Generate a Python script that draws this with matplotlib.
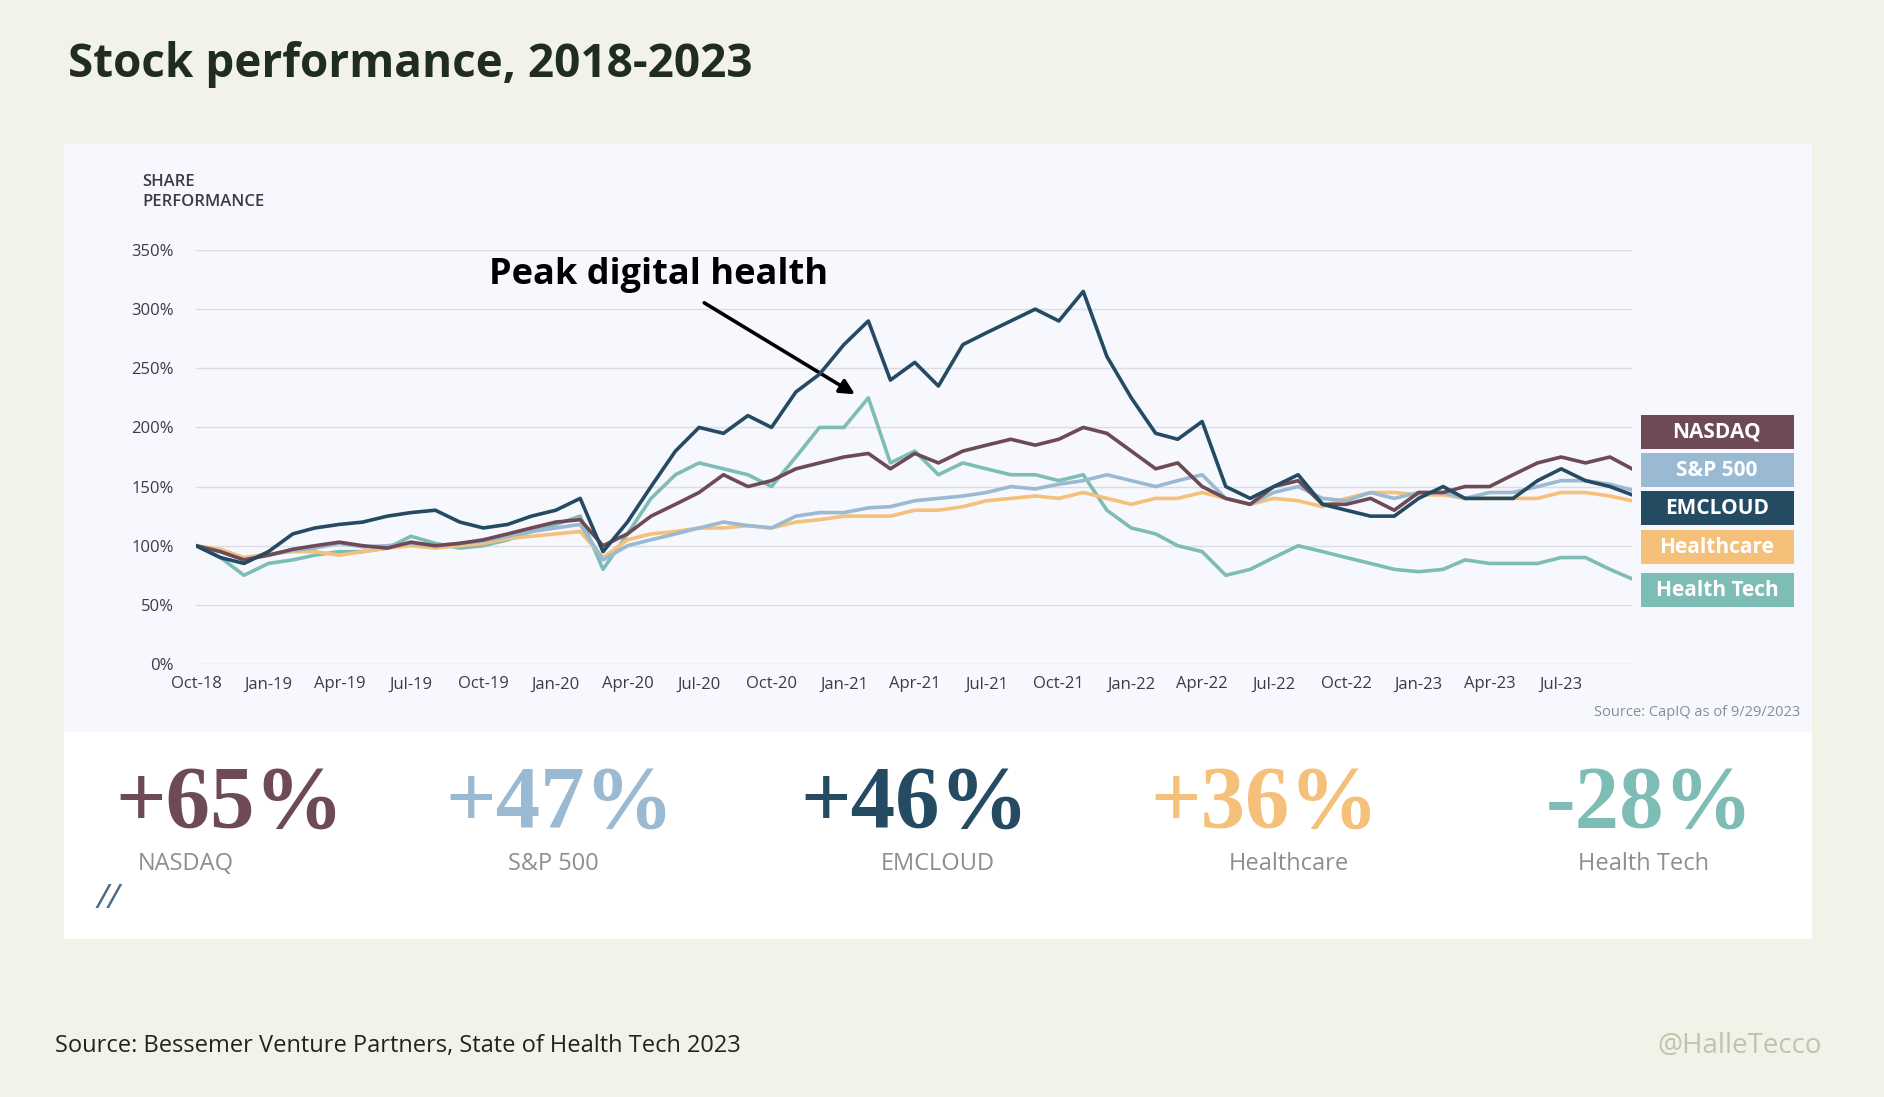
import numpy as np
import pandas as pd
import matplotlib
matplotlib.use("Agg")
import matplotlib.pyplot as plt
import matplotlib.dates as mdates
from matplotlib.patches import Rectangle

# ── Data (monthly readings, % of Oct-18 level) ───────────────────────────
dates = list(pd.date_range("2018-10-01", periods=60, freq="MS")) + [pd.Timestamp("2023-09-29")]

emcloud = [100, 90, 85, 95, 110, 115, 118, 120, 125, 128, 130, 120, 115, 118, 125, 130, 140, 95, 120, 150,
           180, 200, 195, 210, 200, 230, 245, 270, 290, 240, 255, 235, 270, 280, 290, 300, 290, 315, 260, 225,
           195, 190, 205, 150, 140, 150, 160, 135, 130, 125, 125, 140, 150, 140, 140, 140, 155, 165, 155, 150, 143]
nasdaq = [100, 95, 88, 92, 97, 100, 103, 100, 98, 103, 100, 102, 105, 110, 115, 120, 122, 100, 110, 125,
          135, 145, 160, 150, 155, 165, 170, 175, 178, 165, 178, 170, 180, 185, 190, 185, 190, 200, 195, 180,
          165, 170, 150, 140, 135, 150, 155, 135, 135, 140, 130, 145, 145, 150, 150, 160, 170, 175, 170, 175, 165]
sp500 = [100, 95, 88, 92, 96, 98, 102, 99, 100, 102, 100, 102, 104, 108, 112, 115, 118, 88, 100, 105,
         110, 115, 120, 117, 115, 125, 128, 128, 132, 133, 138, 140, 142, 145, 150, 148, 152, 155, 160, 155,
         150, 155, 160, 140, 135, 145, 150, 140, 138, 145, 140, 145, 145, 140, 145, 145, 150, 155, 155, 152, 147]
healthcare = [100, 97, 90, 93, 95, 95, 92, 95, 98, 100, 98, 100, 102, 106, 108, 110, 112, 90, 105, 110,
              112, 115, 115, 117, 115, 120, 122, 125, 125, 125, 130, 130, 133, 138, 140, 142, 140, 145, 140, 135,
              140, 140, 145, 140, 135, 140, 138, 133, 140, 145, 145, 143, 143, 140, 140, 140, 140, 145, 145, 142, 138]
healthtech = [100, 90, 75, 85, 88, 92, 95, 95, 98, 108, 102, 98, 100, 105, 112, 118, 125, 80, 110, 140,
              160, 170, 165, 160, 150, 175, 200, 200, 225, 170, 180, 160, 170, 165, 160, 160, 155, 160, 130, 115,
              110, 100, 95, 75, 80, 90, 100, 95, 90, 85, 80, 78, 80, 88, 85, 85, 85, 90, 90, 80, 72]

names = ["NASDAQ", "S&P 500", "EMCLOUD", "Healthcare", "Health Tech"]
colors = ["#6e4a57", "#9ab9d3", "#254b63", "#f5c07a", "#7dbdb6"]
changes = ["+65%", "+47%", "+46%", "+36%", "-28%"]
series = [nasdaq, sp500, emcloud, healthcare, healthtech]

plt.rcParams["font.family"] = ["Open Sans", "DejaVu Sans"]

W, H = 1884, 1097
fig = plt.figure(figsize=(W / 100, H / 100), dpi=100, facecolor="#f3f2e8")

def px(x, y):
    return x / W, 1 - y / H

# panels
fig.patches.append(Rectangle(px(64, 732), 1748 / W, 588 / H, transform=fig.transFigure,
                             facecolor="#f7f8fd", edgecolor="none", zorder=-2))
fig.patches.append(Rectangle(px(64, 939), 1748 / W, 207 / H, transform=fig.transFigure,
                             facecolor="#ffffff", edgecolor="none", zorder=-2))

fig.text(*px(68, 65), "Stock performance, 2018-2023", fontsize=33, fontweight="bold",
         color="#1f2d1f", va="center")

ax = fig.add_axes([196 / W, 1 - 664 / H, (1632 - 196) / W, (664 - 250) / H])
ax.set_facecolor("none")
ax.set_zorder(5)

order = [4, 3, 1, 0, 2]
for i in order:
    ax.plot(dates, series[i], color=colors[i], lw=2.6, zorder=3 + (i == 2))

ax.set_ylim(0, 350)
ax.set_yticks(range(0, 351, 50))
ax.set_yticklabels([f"{v}%" for v in range(0, 351, 50)])
ax.set_xlim(dates[0], dates[-1])
ax.xaxis.set_major_locator(mdates.MonthLocator(bymonth=[1, 4, 7, 10]))
ax.xaxis.set_major_formatter(mdates.DateFormatter("%b-%y"))
ax.grid(axis="y", color="#dcdde3", lw=1)
ax.set_axisbelow(True)
for s in ax.spines.values():
    s.set_visible(False)
ax.tick_params(length=0, labelsize=12, colors="#3a3a4a", pad=9)
ax.tick_params(axis="y", pad=16)

fig.text(*px(142, 192), "SHARE\nPERFORMANCE", fontsize=12, fontweight="semibold",
         color="#3a3a4a", va="center", linespacing=1.3)

ax.annotate("Peak digital health", xy=(pd.Timestamp("2021-01-15"), 228),
            xytext=(pd.Timestamp("2020-05-10"), 329), fontsize=26, fontweight="bold",
            ha="center", va="center", color="black",
            arrowprops=dict(arrowstyle="-|>", color="black", lw=2.6, mutation_scale=22,
                            shrinkA=10, shrinkB=0))

fig.text(*px(1800, 712), "Source: CapIQ as of 9/29/2023", fontsize=10.5, color="#8a8d96",
         ha="right", va="center")

# legend boxes
ys = [432, 470, 508, 547, 590]
for name, c, y in zip(names, colors, ys):
    fig.patches.append(Rectangle(px(1641, y + 17), 153 / W, 34 / H, transform=fig.transFigure,
                                 facecolor=c, edgecolor="none", zorder=2))
    fig.text(*px(1717, y), name, fontsize=15, fontweight="bold", color="white",
             ha="center", va="center", zorder=3)

# big numbers
xs = [230, 560, 915, 1265, 1650]
lx = [138, 508, 881, 1229, 1578]
for x, l, ch, name, c in zip(xs, lx, changes, names, colors):
    fig.text(*px(x, 805), ch, fontsize=64, fontweight="bold", family=["Liberation Serif"],
             color=c, ha="center", va="center")
    fig.text(*px(l, 864), name, fontsize=17, color="#8e8e8e", ha="left", va="center")

fig.text(*px(108, 900), "//", fontsize=24, style="italic", color="#4a6a85", ha="center", va="center")

fig.text(*px(55, 1046), "Source: Bessemer Venture Partners, State of Health Tech 2023",
         fontsize=17, color="#222222", va="center")
fig.text(*px(1822, 1046), "@HalleTecco", fontsize=20, color="#b9c7ad", ha="right", va="center")

fig.savefig("out.png", dpi=100, facecolor=fig.get_facecolor())
